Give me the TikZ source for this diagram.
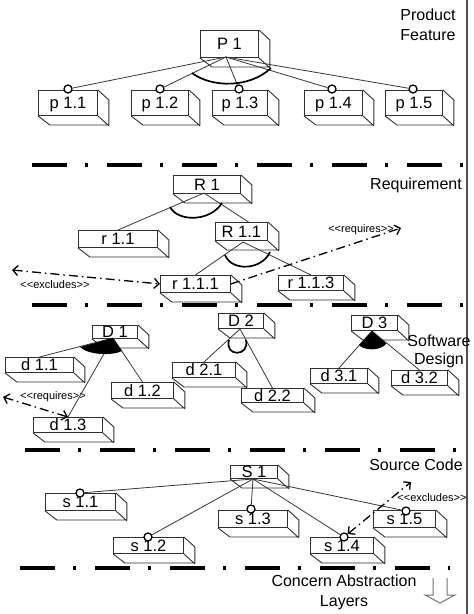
\documentclass[tikz,border=0pt]{standalone}
\usepackage{fontspec}
\setmainfont{Liberation Sans}[Ligatures=TeXOff]
\usetikzlibrary{arrows.meta,calc}
\definecolor{boxc}{HTML}{303030}
\definecolor{linec}{HTML}{383838}
\tikzset{
 fbox/.style={draw=boxc, line width=0.9pt, fill=white, inner sep=0pt, anchor=north west,
   text height=11.5pt, text depth=0pt, font=\fontsize{16.5}{18}\selectfont},
 boxdepth/.style={draw=boxc, line width=0.9pt},
 conn/.style={draw=linec, line width=0.8pt},
 knob/.style={circle, draw=black, line width=1.3pt, fill=white, inner sep=0pt, minimum size=8pt},
 orarc/.style={draw=black, line width=1.7pt},
 layer/.style={line width=4pt, dash pattern=on 35pt off 18pt on 2.5pt off 19.5pt},
 dep/.style={line width=1.3pt, dash pattern=on 9pt off 4pt on 1.5pt off 4pt},
 bothtips/.style={{Straight Barb[length=5pt,width=10pt]}-{Straight Barb[length=5pt,width=10pt]}},
 endtip/.style={-{Straight Barb[length=5pt,width=10pt]}},
 deplabel/.style={font=\fontsize{11}{12}\selectfont, inner sep=0pt},
 sect/.style={font=\fontsize{16}{20}\selectfont, align=center, inner sep=0pt},
}
\newcommand{\bx}[6]{%
 \node[fbox, minimum width=#4pt, minimum height=#5pt] (#1) at (#2,#3) {#6};
 \draw[boxdepth] (#1.north east) -- ++(11pt,-10pt) -- ++(0pt,-#5pt) -- ++(-#4pt,0pt) -- (#1.south west)
   (#1.south east) -- ++(11pt,-10pt);
}
\begin{document}
\begin{tikzpicture}[x=1pt,y=-1pt]
\useasboundingbox (0,0) rectangle (474,614);
\fill[white] (0,0) rectangle (474,614);

% layer separators
\draw[layer] (32,165) -- (463,165);
\draw[layer] (32,305) -- (463,305);
\draw[layer] (25,450) -- (457,450);
\draw[layer] (20,568) -- (450,568);

% right border
\draw[line width=2pt, black!70] (467,0) -- (467,614);

% ---------- Product feature ----------
\bx{P1}{200}{30}{58}{27}{P 1}
\bx{p11}{38}{90}{59}{25}{p 1.1}
\bx{p12}{131}{90}{57}{25}{p 1.2}
\bx{p13}{212}{90}{55}{25}{p 1.3}
\bx{p14}{304}{90}{58}{25}{p 1.4}
\bx{p15}{385}{90}{57}{25}{p 1.5}
\coordinate (P1o) at (226,57);
\node[knob] (k11) at (68,89) {};
\node[knob] (k12) at (160,89) {};
\node[knob] (k13) at (239,89) {};
\node[knob] (k14) at (332,89) {};
\node[knob] (k15) at (413,89) {};
\foreach \k in {k11,k12,k13,k14,k15} \draw[conn] (P1o) -- (\k);
\draw[orarc] (192,73) .. controls (212,88) and (250,88) .. (271,68);
\node[sect] (tPF) at (428,25) {Product\\Feature};

% ---------- Requirement ----------
\bx{R1}{173}{175}{67}{18}{R 1}
\bx{r11}{78}{230}{79}{17}{r 1.1}
\bx{R11}{215}{222}{52}{18}{R 1.1}
\bx{r111}{160}{275}{70}{17}{r 1.1.1}
\bx{r113}{278}{275}{65}{15}{r 1.1.3}
\coordinate (R1o) at (204,193);
\coordinate (R11o) at (243,242);
\draw[conn] (R1o) -- (r11.north);
\draw[conn] (R1o) -- ($(R11.north)+(7,0)$);
\draw[conn] (R11o) -- (r111.north);
\draw[conn] (R11o) -- (r113.north);
\draw[orarc] (170,207) .. controls (178,222) and (210,222) .. (222,203);
\draw[orarc] (225,255) .. controls (232,272) and (262,270) .. (270,252);
\coordinate (exR) at (12,270);
\coordinate (rqR) at (401,228);
\draw[dep,bothtips] (exR) -- (r111.west);
\draw[dep,endtip] (r111.east) -- (rqR);
\node[deplabel] (lexR) at (55,285) {<<excludes>>};
\node[deplabel] (lrqR) at (361,230) {<<requires>>};
\node[sect] (tRQ) at (416,185) {Requirement};

% ---------- Software design ----------
\bx{D1}{92}{325}{45}{13}{D 1}
\bx{d11}{5}{357}{68}{15}{d 1.1}
\bx{d12}{111}{382}{62}{16}{d 1.2}
\bx{d13}{33}{417}{69}{15}{d 1.3}
\bx{D2}{218}{313}{45}{15}{D 2}
\bx{d21}{172}{362}{63}{15}{d 2.1}
\bx{d22}{241}{388}{62}{14}{d 2.2}
\bx{D3}{351}{315}{46}{15}{D 3}
\bx{d31}{310}{368}{57}{15}{d 3.1}
\bx{d32}{391}{370}{56}{15}{d 3.2}
\coordinate (D1o) at (113,338);
\coordinate (D2o) at (240,329);
\coordinate (D3o) at (372,331);
\draw[conn] (D1o) -- (d11.north);
\draw[conn] (D1o) -- (d12.north);
\draw[conn] (D1o) -- (d13.north);
\draw[conn] (D2o) -- (d21.north);
\draw[conn] (D2o) -- (d22.north);
\draw[conn] (D3o) -- (d31.north);
\draw[conn] (D3o) -- (d32.north);
\fill[black] (D1o) -- (80,347) .. controls (88,355) and (112,356) .. (122,351) -- cycle;
\draw[orarc] (229,340) .. controls (224,357) and (250,357) .. (246,340);
\fill[black] (D3o) -- (359,345) .. controls (364,351) and (381,351) .. (386.3,343.5) -- cycle;
\coordinate (rqD) at (3,397);
\draw[dep,bothtips] (rqD) -- (d13.north);
\node[deplabel] (lrqD) at (53,397) {<<requires>>};
\node[sect, font=\fontsize{16}{18}\selectfont] (tSD) at (439,351) {Software\\Design};

% ---------- Source code ----------
\bx{S1}{230}{465}{47}{13}{S 1}
\bx{s11}{45}{493}{70}{17}{s 1.1}
\bx{s12}{113}{537}{70}{16}{s 1.2}
\bx{s13}{218}{510}{69}{17}{s 1.3}
\bx{s14}{310}{537}{63}{16}{s 1.4}
\bx{s15}{373}{510}{62}{17}{s 1.5}
\coordinate (S1o) at (253,479);
\node[knob] (q11) at (80,493) {};
\node[knob] (q12) at (148,537) {};
\node[knob] (q13) at (251,509) {};
\node[knob] (q14) at (344,537) {};
\node[knob] (q15) at (406,511) {};
\foreach \k in {q11,q12,q13,q14,q15} \draw[conn] (S1o) -- (\k);
\coordinate (exS) at (411,482);
\draw[dep,bothtips] (q14) -- (exS);
\node[deplabel] (lexS) at (432,498) {<<excludes>>};
\node[sect] (tSC) at (416,465) {Source Code};

% ---------- bottom ----------
\node[sect] (tCA) at (344,592) {Concern Abstraction\\Layers};
\draw[line width=1pt, black!55] (433,578) -- (433,595) -- (425,595) -- (440,603) -- (455,595) -- (447,595) -- (447,578);
\end{tikzpicture}
\end{document}
